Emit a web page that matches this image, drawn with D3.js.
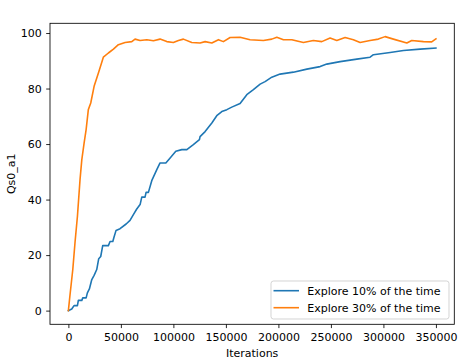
<!DOCTYPE html>
<html>
<head>
<meta charset="utf-8">
<script src="https://cdn.jsdelivr.net/npm/d3@7"></script>
<style>
  html, body { margin: 0; padding: 0; background: #fff; }
  svg { display: block; font-family: "DejaVu Sans", sans-serif; }
</style>
</head>
<body>
<svg id="chart" width="474" height="363"></svg>
<script>
// ---- data ----
const seriesNames = ["Explore 10% of the time", "Explore 30% of the time"];
const seriesColors = ["#1f77b4", "#ff7f0e"];

const explore10X = [0, 3200, 5400, 8600, 9500, 12800, 13700, 16900, 18100, 20000, 22300, 24500, 27000, 28900, 30800, 32700, 38100, 39700, 42300, 43500, 45400, 49200, 55000, 58700, 61900, 65100, 68300, 69900, 73000, 74000, 76200, 79400, 84200, 87300, 92800, 96900, 102300, 108000, 112800, 119000, 124800, 125400, 130200, 136600, 141300, 146100, 150900, 155600, 163500, 169900, 176200, 182600, 187300, 193700, 201600, 214300, 227100, 239700, 246100, 258800, 274700, 287300, 290500, 306400, 319100, 335000, 350000];
const explore10Y = [0, 0.6, 1.8, 1.8, 3.7, 3.7, 4.6, 4.6, 6.4, 7.8, 11.2, 12.7, 14.8, 18.7, 19.5, 23.4, 23.4, 24.9, 24.9, 26.5, 28.9, 29.5, 31.2, 32.5, 34.6, 36.6, 38.2, 40.9, 40.9, 42.6, 42.6, 46.8, 50.8, 53.2, 53.2, 55.0, 57.4, 58.0, 58.0, 59.8, 61.6, 62.7, 64.5, 67.6, 70.2, 71.7, 72.4, 73.3, 74.6, 77.8, 79.6, 81.6, 82.5, 84.1, 85.2, 85.9, 87.0, 87.9, 88.8, 89.7, 90.6, 91.3, 92.2, 93.0, 93.7, 94.2, 94.6];

const explore30X = [0, 1600, 4200, 6400, 8600, 11100, 12800, 15000, 16900, 19000, 21300, 24500, 28600, 33300, 38100, 42900, 47600, 54000, 60400, 63500, 68300, 74700, 81000, 87300, 93700, 100000, 104800, 109500, 117500, 125400, 130200, 136600, 142900, 147600, 154000, 163500, 173000, 185700, 193700, 198500, 204800, 212800, 223800, 233300, 241300, 249200, 255600, 263500, 271400, 277800, 287300, 295200, 301600, 309500, 322300, 327000, 338100, 346000, 350000];
const explore30Y = [0, 5.8, 14.8, 24.9, 33.9, 47.2, 54.4, 60.4, 65.2, 72.4, 74.8, 80.8, 85.6, 91.3, 92.8, 94.2, 95.8, 96.6, 96.9, 97.8, 97.3, 97.6, 97.2, 97.8, 96.9, 96.6, 97.3, 97.8, 96.6, 96.4, 96.9, 96.4, 97.6, 96.9, 98.4, 98.5, 97.6, 97.3, 97.8, 98.5, 97.6, 97.6, 96.6, 97.3, 96.9, 98.2, 97.3, 98.4, 97.6, 96.6, 97.3, 97.8, 98.7, 97.8, 96.4, 97.3, 96.9, 96.8, 97.9];

const xTicks = [0, 50000, 100000, 150000, 200000, 250000, 300000, 350000];
const yTicks = [0, 20, 40, 60, 80, 100];
const xLabel = "Iterations";
const yLabel = "Qs0_a1";

(function () {
// ---- layout ----
const svg = d3.select("#chart");
const pL = 50, pR = 454.3, pT = 23.3, pB = 324.3;
const x = d3.scaleLinear().domain([-17500, 367500]).range([pL, pR]);
const y = d3.scaleLinear().domain([-4.93, 103.5]).range([pB, pT]);
const fontSize = 11;
const tickLen = 3.8;

// lines
const series = [
  explore10X.map((v, i) => [v, explore10Y[i]]),
  explore30X.map((v, i) => [v, explore30Y[i]])
];
const line = d3.line().x(d => x(d[0])).y(d => y(d[1]));
svg.append("defs").append("clipPath").attr("id", "clip")
  .append("rect").attr("x", pL).attr("y", pT).attr("width", pR - pL).attr("height", pB - pT);
const plot = svg.append("g").attr("clip-path", "url(#clip)");
series.forEach((s, i) => {
  plot.append("path").datum(s)
    .attr("d", line)
    .attr("fill", "none")
    .attr("stroke", seriesColors[i])
    .attr("stroke-width", 1.6)
    .attr("stroke-linejoin", "round")
    .attr("stroke-linecap", "square");
});

// axes
const xAxis = d3.axisBottom(x).tickValues(xTicks).tickFormat(d3.format("d")).tickSize(tickLen).tickPadding(5);
const yAxis = d3.axisLeft(y).tickValues(yTicks).tickFormat(d3.format("d")).tickSize(tickLen).tickPadding(4.5);
const gx = svg.append("g").attr("transform", `translate(0,${pB})`).call(xAxis);
const gy = svg.append("g").attr("transform", `translate(${pL},0)`).call(yAxis);
[gx, gy].forEach(g => {
  g.select(".domain").remove();
  g.selectAll(".tick line").attr("stroke", "#000").attr("stroke-width", 0.85);
  g.selectAll(".tick text").attr("fill", "#000").style("font-size", fontSize + "px").style("font-family", "DejaVu Sans");
});

// frame
svg.append("rect").attr("x", pL).attr("y", pT).attr("width", pR - pL).attr("height", pB - pT)
  .attr("fill", "none").attr("stroke", "#000").attr("stroke-width", 0.85);

// axis labels
svg.append("text").attr("x", (pL + pR) / 2).attr("y", 357)
  .attr("text-anchor", "middle").style("font-size", fontSize + "px").text(xLabel);
svg.append("text").attr("transform", `translate(15,${(pT + pB) / 2}) rotate(-90)`)
  .attr("text-anchor", "middle").style("font-size", fontSize + "px").text(yLabel);

// legend
const lg = svg.append("g");
lg.append("rect").attr("x", 271).attr("y", 281).attr("width", 178).attr("height", 38)
  .attr("rx", 2.5).attr("fill", "#fff").attr("fill-opacity", 0.8)
  .attr("stroke", "#cccccc").attr("stroke-width", 0.85);
seriesNames.forEach((name, i) => {
  const cy = 290.7 + i * 17;
  lg.append("line").attr("x1", 273.5).attr("x2", 299).attr("y1", cy).attr("y2", cy)
    .attr("stroke", seriesColors[i]).attr("stroke-width", 1.6);
  lg.append("text").attr("x", 307.3).attr("y", cy).attr("dy", "0.36em")
    .style("font-size", fontSize + "px").text(name);
});
})();
</script>
</body>
</html>
